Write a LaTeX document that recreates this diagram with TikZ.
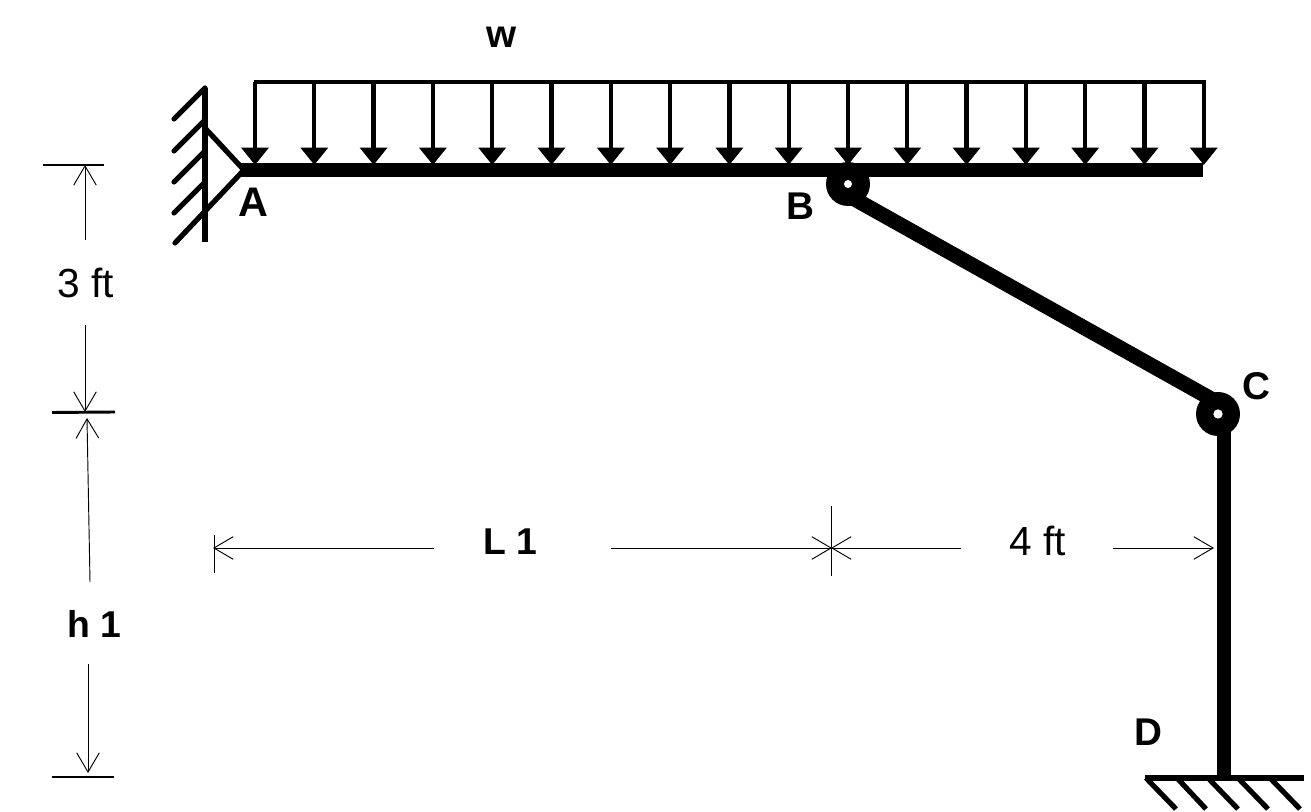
\documentclass[tikz,border=0pt]{standalone}
\usepackage{fontspec}
\setmainfont{Liberation Sans}
\usetikzlibrary{arrows.meta}
\tikzset{
  x=0.75pt,y=-0.75pt,
  member/.style={line width=10.5pt,line cap=butt,black},
  joint/.style={circle,fill=black,draw=none,minimum size=33pt,inner sep=0pt},
  pinhole/.style={circle,fill=white,draw=none,minimum size=6pt,inner sep=0pt},
  hatchline/.style={line width=3.9pt,black},
  wallline/.style={line width=4.1pt,black},
  loadline/.style={line width=3.2pt,black},
  loadarrow/.style={line width=3.2pt,black,-{Triangle[length=13pt,width=20pt]}},
  dimline/.style={line width=0.7pt,black},
  dimarrow/.style={line width=0.7pt,black,-{Straight Barb[length=14.5pt,width=17pt,line width=0.7pt]}},
  dimtick/.style={line width=1.6pt,black},
  boldlabel/.style={font=\fontsize{28}{28}\selectfont\bfseries,inner sep=0pt,text=black},
  dimlabel/.style={font=\fontsize{30.5}{30.5}\selectfont,inner sep=0pt,text=black},
}
\begin{document}
\begin{tikzpicture}
\useasboundingbox (0,0) rectangle (1311,812);
% structure points
\coordinate (Abeam) at (241,170);
\coordinate (Atipu) at (243,169);
\coordinate (Atipl) at (243,171);
\coordinate (Ebeam) at (1203,170);
\coordinate (Dbase) at (1224,778);
\coordinate (LinkB) at (848,195.4);
\coordinate (LinkC) at (1218,402.7);
\node[joint] (B) at (848,184) {};
\node[joint] (C) at (1218,414) {};
% wall
\coordinate (W1) at (205,88); \coordinate (W2) at (205,242);
\draw[wallline] (W1) -- (W2);
\foreach \i/\y in {0/88,1/120,2/151,3/182}{
  \coordinate (hs\i) at (205,\y);
  \coordinate (he\i) at (174,\y+31);
  \draw[hatchline,line cap=round] (hs\i) -- (he\i);
}
\coordinate (Tup) at (205,128);
\coordinate (Tlo) at (175,243);
\draw[hatchline] (Tup) -- (Atipu);
\draw[hatchline,line cap=round] (Atipl) -- (Tlo);
% members
\draw[member] (Abeam) -- (Ebeam);
\draw[member,line width=11.2pt] (LinkB) -- (LinkC);
\draw[member] (C.center -| Dbase) -- (Dbase);
\node[pinhole] (Bh) at (B) {};
\node[pinhole,minimum width=7pt,minimum height=5.5pt] (Ch) at (C) {};
% load
\coordinate (L0) at (253.5,82);
\coordinate (L1) at (1205.5,82);
\draw[loadline] (L0) -- (L1);
\foreach \i in {0,...,16}{
  \pgfmathsetmacro{\xx}{255+59.3*\i}
  \coordinate (lt\i) at (\xx,82);
  \coordinate (lb\i) at (\xx,165);
  \draw[loadarrow] (lt\i) -- (lb\i);
}
% ground
\coordinate (G0) at (1145,778);
\coordinate (G1) at (1304,778);
\draw[wallline] (G0) -- (G1);
\foreach \i/\a/\b in {0/1146/1176,1/1177/1206,2/1208/1238,3/1238/1268,4/1270/1300}{
  \coordinate (gs\i) at (\a,778);
  \coordinate (ge\i) at (\b,809);
  \draw[hatchline] (gs\i) -- (ge\i);
}
% dimension ticks
\coordinate (T1a) at (43,165); \coordinate (T1b) at (104,165);
\coordinate (T2a) at (52,412.5); \coordinate (T2b) at (115,412);
\coordinate (T3a) at (52,777); \coordinate (T3b) at (114,777);
\coordinate (T4a) at (214,535); \coordinate (T4b) at (214,573);
\coordinate (T5a) at (831,506); \coordinate (T5b) at (831,576);
\draw[dimtick] (T1a) -- (T1b);
\draw[dimtick,line width=2.2pt] (T2a) -- (T2b);
\draw[dimtick] (T3a) -- (T3b);
\draw[dimline] (T4a) -- (T4b);
\draw[dimline] (T5a) -- (T5b);
% dimension labels
\node[dimlabel] (d3) at (85.5,283) {3 ft};
\node[dimlabel] (d4) at (1038,541) {4 ft};
\node[boldlabel] (h1) at (94.5,624) {h 1};
\node[boldlabel] (l1) at (510.5,542) {L 1};
% dimension arrows
\coordinate (a1s) at (85,240); \coordinate (a1e) at (85,165);
\coordinate (a2s) at (85,325); \coordinate (a2e) at (85,412);
\coordinate (a3s) at (90,582); \coordinate (a3e) at (87,418);
\coordinate (a4s) at (88,664); \coordinate (a4e) at (88,773);
\coordinate (a5s) at (434,548); \coordinate (a5e) at (213,548);
\coordinate (a6s) at (611,548); \coordinate (a6e) at (832,548);
\coordinate (a7s) at (961,548); \coordinate (a7e) at (831,548);
\coordinate (a8s) at (1113,548); \coordinate (a8e) at (1214,548);
\foreach \i in {1,...,8}{ \draw[dimarrow] (a\i s) -- (a\i e); }
% labels
\node[boldlabel,font=\fontsize{29}{29}\selectfont\bfseries] (w) at (502,37) {w};
\node[boldlabel,font=\fontsize{31}{31}\selectfont\bfseries] (A) at (253,202) {A};
\node[boldlabel,font=\fontsize{29}{29}\selectfont\bfseries] (Bl) at (800,206) {B};
\node[boldlabel,font=\fontsize{29}{29}\selectfont\bfseries] (Cl) at (1256,386) {C};
\node[boldlabel,font=\fontsize{29}{29}\selectfont\bfseries] (Dl) at (1148,732) {D};
\end{tikzpicture}
\end{document}
